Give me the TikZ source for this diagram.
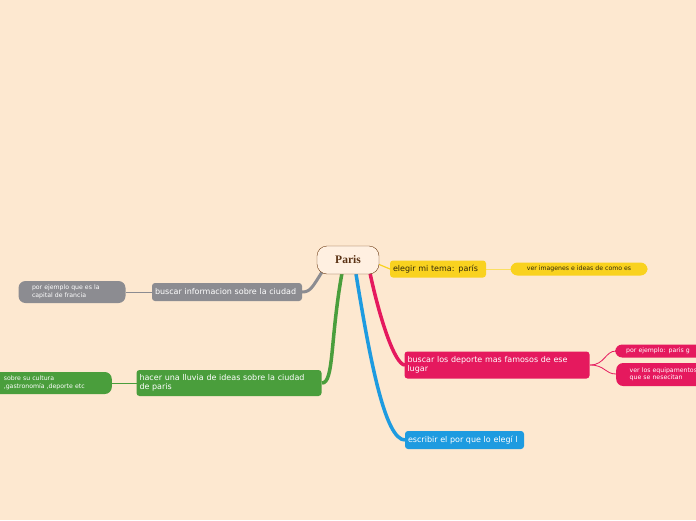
\documentclass[tikz,border=0pt]{standalone}
\usepackage{fontspec}
\setmainfont{DejaVu Sans}
\newfontfamily\serifb{Liberation Serif}
\begin{document}
\begin{tikzpicture}[x=1pt,y=-1pt,
  box/.style={rounded corners=3pt,inner sep=0pt,font=\fontsize{8}{8.5}\selectfont,align=left,text=white},
  pill/.style={rounded corners=7pt,inner sep=0pt,font=\fontsize{6.2}{7.5}\selectfont,align=left,text=white}]
\fill[fill={rgb,255:red,253;green,232;blue,208}] (0,0) rectangle (696,520);
\clip (0,0) rectangle (696,520);
\definecolor{yel}{RGB}{249,210,31}
\definecolor{gry}{RGB}{140,140,145}
\definecolor{grn}{RGB}{74,158,60}
\definecolor{pnk}{RGB}{229,25,94}
\definecolor{blu}{RGB}{30,155,224}
% branches
\draw[gry,line width=3pt] (322,272) .. controls (312,288) and (310,292) .. (302,292);
\draw[grn,line width=3.5pt] (342,273) .. controls (330,340) and (334,383) .. (322,383);
\draw[pnk,line width=3.5pt] (370,273) .. controls (380,320) and (395,365) .. (405,365);
\draw[blu,line width=3.5pt] (356,274) .. controls (370,360) and (385,440) .. (405,440);
\draw[yel,line width=1.2pt] (378,264) -- (390,269);
\draw[yel!70!white,line width=0.6pt] (486,269) -- (511,269);
\draw[gry,line width=0.8pt] (126,292) -- (152,292);
\draw[grn,line width=0.8pt] (112,383) -- (137,383);
\draw[pnk,line width=0.8pt] (590,365) .. controls (605,365) and (605,351) .. (616,351);
\draw[pnk,line width=0.8pt] (590,365) .. controls (605,365) and (605,374) .. (616,374);
% nodes
\node[draw={rgb,255:red,110;green,60;blue,20},fill={rgb,255:red,255;green,240;blue,225},rounded corners=10pt,minimum width=62pt,minimum height=28pt,font=\serifb\bfseries\fontsize{11.5}{11.5}\selectfont,text={rgb,255:red,90;green,50;blue,20}] (root) at (348,260) {Paris};
\node[box,fill=yel,text={rgb,255:red,50;green,40;blue,10},minimum width=96pt,minimum height=17pt,text width=90pt] (a) at (438,269) {elegir mi tema: parís};
\node[pill,fill=yel,text={rgb,255:red,50;green,40;blue,10},minimum width=137pt,minimum height=13pt,align=center] (a1) at (579,269) {ver imagenes e ideas de como es};
\node[box,fill=gry,minimum width=150pt,minimum height=18pt,text width=144pt] (b) at (227,292) {buscar informacion sobre la ciudad};
\node[pill,fill=gry,minimum width=107pt,minimum height=22pt,text width=80pt] (b1) at (72,292) {por ejemplo que es la\\capital de francia};
\node[box,fill=grn,minimum width=185pt,minimum height=26pt,text width=179pt] (c) at (229,383) {hacer una lluvia de ideas sobre la ciudad\\de paris};
\node[pill,fill=grn,minimum width=132pt,minimum height=22pt,text width=128pt,anchor=east] (c1) at (112,383) {\hspace*{22pt}sobre su cultura\\\hspace*{22pt},gastronomía ,deporte etc};
\node[box,fill=pnk,minimum width=185pt,minimum height=27pt,text width=179pt] (d) at (497,365) {buscar los deporte mas famosos de ese\\lugar};
\node[pill,fill=pnk,minimum width=110pt,minimum height=13pt,text width=100pt,anchor=west] (d1) at (615,351) {\hspace*{6pt}por ejemplo: paris g};
\node[pill,fill=pnk,minimum width=110pt,minimum height=23pt,text width=95pt,anchor=west] (d2) at (616,374.5) {\hspace*{6pt}ver los equipamentos\\\hspace*{6pt}que se nesecitan};
\node[box,fill=blu,minimum width=119pt,minimum height=18pt,text width=113pt] (e) at (464.5,440) {escribir el por que lo elegí l};
\end{tikzpicture}
\end{document}
